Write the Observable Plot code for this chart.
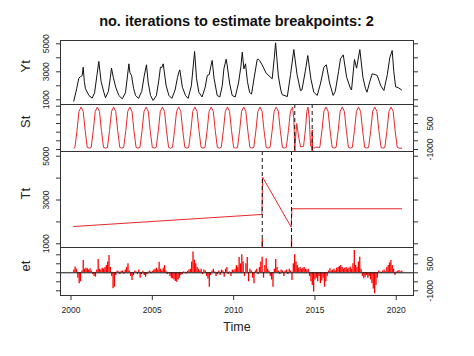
<!DOCTYPE html>
<html><head><meta charset="utf-8">
<script src="https://cdn.jsdelivr.net/npm/d3@7"></script>
<script src="https://cdn.jsdelivr.net/npm/@observablehq/plot@0.6"></script>
<style>
body{margin:0;background:#fff;}
#wrap{position:relative;width:474px;height:356px;font-family:"Liberation Sans",Arial,sans-serif;}
#title{position:absolute;left:60px;width:353px;top:13px;line-height:16px;text-align:center;font-weight:bold;font-size:14.5px;color:#111;}
</style></head><body>
<div id="wrap"><div id="title">no. iterations to estimate breakpoints: 2</div></div>
<script>
// ---------- data ----------
const titleText = "no. iterations to estimate breakpoints: 2";
const yearTicks = [2000, 2005, 2010, 2015, 2020];
const levelTicks = [1000, 2000, 3000, 4000, 5000];
const levelLabels = [1000, 3000, 5000];
const stTicks = [-1000, -500, 0, 500, 1000, 1500];
const stLabels = [-1000, 500];
const etTicks = [-1000, -500, 0, 500, 1000];
const etLabels = [-1000, 500];
const panelNames = ["Yt", "St", "Tt", "et"];

// observed series Yt: [decimal year, value]
const ytSeries = [
[2000.17,900],[2000.35,1800],[2000.48,2540],[2000.58,2650],[2000.69,2740],[2000.75,3330],[2000.82,2300],[2000.89,1790],
[2001.10,1310],[2001.30,1115],[2001.45,1500],[2001.60,2800],[2001.71,3740],[2001.85,2300],[2002.02,1540],[2002.12,1150],
[2002.30,1600],[2002.42,2610],[2002.49,3260],[2002.60,2610],[2002.75,1900],[2002.94,1310],[2003.15,1070],[2003.35,1500],
[2003.56,3570],[2003.62,2950],[2003.72,2740],[2003.85,1800],[2003.97,1310],[2004.15,1100],[2004.35,1600],[2004.50,2700],
[2004.64,3500],[2004.75,2200],[2004.89,1310],[2005.05,950],[2005.25,1300],[2005.40,2400],[2005.50,3330],[2005.58,3300],
[2005.67,3570],[2005.85,2000],[2006.02,1310],[2006.20,1100],[2006.40,1700],[2006.55,2600],[2006.63,2970],[2006.69,3140],
[2006.85,1900],[2007.04,1310],[2007.20,1100],[2007.40,2000],[2007.60,4450],[2007.72,2500],[2007.86,1540],[2008.06,1200],
[2008.25,1900],[2008.38,2740],[2008.50,2800],[2008.60,3400],[2008.68,3810],[2008.80,2500],[2008.99,1310],[2009.15,1200],
[2009.30,2000],[2009.40,3210],[2009.54,3900],[2009.60,3500],[2009.75,2200],[2009.91,1310],[2010.10,1200],[2010.30,2200],
[2010.45,3400],[2010.53,4400],[2010.63,3210],[2010.73,3570],[2010.85,2300],[2010.98,1540],[2011.10,1400],[2011.25,2500],
[2011.45,3880],[2011.52,3900],[2011.60,3800],[2011.75,3500],[2012.00,2900],[2012.37,2500],[2012.50,4000],[2012.58,5070],
[2012.75,2700],[2012.90,1700],[2012.99,1360],[2013.30,1230],[2013.50,2800],[2013.70,4590],[2013.90,2800],[2014.11,1660],
[2014.20,1700],[2014.40,3000],[2014.56,4160],[2014.75,2500],[2014.93,1540],[2015.14,1310],[2015.35,2200],[2015.55,3330],
[2015.70,3500],[2015.90,2200],[2016.12,1310],[2016.25,1600],[2016.45,3000],[2016.57,3930],[2016.74,4210],[2016.95,2600],
[2017.19,1790],[2017.25,1700],[2017.43,3880],[2017.56,3260],[2017.76,4590],[2017.95,2600],[2018.11,1790],[2018.20,1540],
[2018.35,2200],[2018.52,2860],[2018.70,2800],[2018.83,2740],[2019.05,2000],[2019.24,1660],[2019.45,2800],[2019.60,4000],
[2019.75,4520],[2019.85,3000],[2019.96,1930],[2020.15,1850],[2020.33,1700]
];

// seasonal component St
const stSeries = [
[2000.17,-925],[2000.24,-880],[2000.37,100],[2000.49,1200],[2000.62,1450],[2000.75,1200],[2000.87,100],[2001.00,-880],[2001.12,-920],
[2001.24,-880],[2001.37,100],[2001.49,1200],[2001.62,1450],[2001.75,1200],[2001.87,100],[2002.00,-880],[2002.12,-920],
[2002.24,-880],[2002.37,100],[2002.49,1200],[2002.62,1450],[2002.75,1200],[2002.87,100],[2003.00,-880],[2003.12,-920],
[2003.24,-880],[2003.37,100],[2003.49,1200],[2003.62,1450],[2003.75,1200],[2003.87,100],[2004.00,-880],[2004.12,-920],
[2004.24,-880],[2004.37,100],[2004.49,1200],[2004.62,1450],[2004.75,1200],[2004.87,100],[2005.00,-880],[2005.12,-920],
[2005.24,-880],[2005.37,100],[2005.49,1200],[2005.62,1450],[2005.75,1200],[2005.87,100],[2006.00,-880],[2006.12,-920],
[2006.24,-880],[2006.37,100],[2006.49,1200],[2006.62,1450],[2006.75,1200],[2006.87,100],[2007.00,-880],[2007.12,-920],
[2007.24,-880],[2007.37,100],[2007.49,1200],[2007.62,1450],[2007.75,1200],[2007.87,100],[2008.00,-880],[2008.12,-920],
[2008.24,-880],[2008.37,100],[2008.49,1200],[2008.62,1450],[2008.75,1200],[2008.87,100],[2009.00,-880],[2009.12,-920],
[2009.24,-880],[2009.37,100],[2009.49,1200],[2009.62,1450],[2009.75,1200],[2009.87,100],[2010.00,-880],[2010.12,-920],
[2010.24,-880],[2010.37,100],[2010.49,1200],[2010.62,1450],[2010.75,1200],[2010.87,100],[2011.00,-880],[2011.12,-920],
[2011.24,-880],[2011.37,100],[2011.49,1200],[2011.62,1450],[2011.75,1200],[2011.87,100],[2012.00,-880],[2012.12,-920],
[2012.24,-880],[2012.37,100],[2012.49,1200],[2012.62,1450],[2012.75,1200],[2012.87,100],[2013.00,-880],[2013.12,-920],
[2013.24,-880],[2013.37,100],[2013.49,1200],[2013.62,1450],[2013.70,800],[2013.76,-900],
[2013.88,500],[2014.00,-300],[2014.12,-850],[2014.30,-820],[2014.43,300],[2014.50,1200],[2014.57,1450],[2014.65,800],[2014.73,-800],[2014.83,-880],
[2014.95,-920],[2015.06,-860],[2015.30,-880],[2015.43,100],[2015.55,1200],[2015.68,1450],[2015.81,1200],[2015.93,100],[2016.06,-880],[2016.18,-920],
[2016.30,-880],[2016.43,100],[2016.55,1200],[2016.68,1450],[2016.81,1200],[2016.93,100],[2017.06,-880],[2017.18,-920],
[2017.30,-880],[2017.43,100],[2017.55,1200],[2017.68,1450],[2017.81,1200],[2017.93,100],[2018.06,-880],[2018.18,-920],
[2018.30,-880],[2018.43,100],[2018.55,1200],[2018.68,1450],[2018.81,1200],[2018.93,100],[2019.06,-880],[2019.18,-920],
[2019.30,-880],[2019.43,100],[2019.55,1200],[2019.68,1450],[2019.81,1200],[2019.93,100],[2020.06,-880],[2020.18,-920],[2020.33,-925]
];

// trend component Tt
const ttSeries = [[2000.17,1790],[2011.74,2340],[2011.78,4040],[2013.54,1760],[2013.58,2600],[2020.33,2600]];

// breakpoints
const trendBreaks = [2011.76, 2013.56];
const seasonBreaks = [2013.76, 2014.83];
const trendCIHigh = [1200, 1200];
const seasonCIHigh = [-950, 100];

// remainder et (monthly, starting 2000.17)
const etStart = 2000.17;
const etPerYear = 12;
const etValues = [
150,315,200,-300,-610,-500,100,685,200,250,220,150,
220,100,-100,-200,-240,150,740,200,150,250,200,300,
400,600,960,300,-200,-890,-800,-150,100,50,-100,80,
100,-80,150,300,500,100,-200,-425,-150,100,50,-100,
150,-300,-100,80,-150,-250,-100,50,100,-50,80,150,
200,250,150,590,200,100,250,400,100,-100,-50,-200,
-300,-350,-400,-480,-520,-400,-300,-150,-100,50,30,-60,
80,150,200,600,1150,700,500,300,200,100,200,-100,
150,100,-200,-350,-800,-150,100,200,50,-200,-100,100,
-150,150,100,-250,200,300,-100,50,-200,150,100,200,
400,300,850,500,1000,600,-200,500,850,-500,200,100,
-300,-610,100,200,-100,300,600,870,-300,400,780,200,
100,-200,-400,-800,200,740,300,100,-100,150,100,-200,
100,150,-100,200,100,-425,500,1000,600,400,250,300,
200,250,300,200,150,200,-200,-500,-700,-1070,-400,-300,
-500,-200,-600,-450,-300,-800,-500,-200,100,220,100,150,
200,100,250,300,350,400,300,200,250,300,200,250,
315,200,500,1240,400,300,600,870,200,-200,-330,-250,
-150,-300,-200,-400,-600,-900,-1165,-700,-300,100,50,-50,
100,150,50,300,400,550,685,400,200,-150,50,80,
130,50,100
];

// ---------- layout ----------
const W = 474, H = 356;
const X_DOMAIN = [1999.354, 2021.06];
const FONT = "'Liberation Sans', Arial, Helvetica, sans-serif";
const etData = etValues.map((v, i) => ({t: etStart + i / etPerYear, v}));

function panel(o) {
  const other = o.side === "left" ? "right" : "left";
  const marks = [
    ...o.marks,
    Plot.frame({stroke: "#333", strokeWidth: 1}),
    Plot.axisY({anchor: o.side, ticks: o.ticks, tickSize: 4, tickRotate: -90,
      tickPadding: o.side === "left" ? 7.5 : 9.5,
      lineAnchor: o.side === "left" ? "bottom" : "top", textAnchor: "middle",
      tickFormat: d => o.labels.includes(d) ? String(d) : "",
      fontSize: 8.5, label: null, stroke: "#333", fill: "#222"}),
    Plot.axisY({anchor: other, ticks: o.ticks, tickSize: 4, tickFormat: () => "", label: null, stroke: "#333"}),
    Plot.text([o.name], {text: d => d, frameAnchor: "left", dx: -35, rotate: -90, fontSize: 13, fill: "#222"})
  ];
  if (o.xAxis) {
    marks.push(Plot.axisX({ticks: yearTicks, tickSize: 5, tickPadding: 6, fontSize: 8.5,
      tickFormat: d => String(d), label: null, stroke: "#333", fill: "#222"}));
    marks.push(Plot.text(["Time"], {text: d => d, frameAnchor: "bottom", dy: 35, fontSize: 12.5, fill: "#222"}));
  }
  return Plot.plot({
    width: W, height: H,
    marginLeft: 60, marginRight: W - 413, marginTop: o.top, marginBottom: H - o.bottom,
    x: {domain: X_DOMAIN, axis: null},
    y: {domain: o.yDomain, axis: null},
    style: `position:absolute;left:0;top:0;background:transparent;overflow:visible;font-family:${FONT};`,
    marks
  });
}

const wrap = document.getElementById("wrap");
document.getElementById("title").textContent = titleText;

const ytDomain = [664, 5236], stDomain = [-1115, 1597], ttDomain = [831, 5215], etDomain = [-1261, 1405];

wrap.appendChild(panel({
  name: panelNames[0], top: 40, bottom: 104, yDomain: ytDomain, ticks: levelTicks, labels: levelLabels, side: "left",
  marks: [Plot.line(ytSeries, {x: d => d[0], y: d => d[1], stroke: "#111", strokeWidth: 1})]
}));
wrap.appendChild(panel({
  name: panelNames[1], top: 104, bottom: 151, yDomain: stDomain, ticks: stTicks, labels: stLabels, side: "right",
  marks: [
    Plot.line(stSeries, {x: d => d[0], y: d => d[1], stroke: "#e8282b", strokeWidth: 1}),
    Plot.ruleX(seasonBreaks, {x: d => d, y1: stDomain[0], y2: (d, i) => seasonCIHigh[i], stroke: "red", strokeWidth: 1.3}),
    Plot.ruleX(seasonBreaks, {x: d => d, stroke: "#111", strokeDasharray: "4,3", strokeWidth: 1})
  ]
}));
wrap.appendChild(panel({
  name: panelNames[2], top: 151, bottom: 247, yDomain: ttDomain, ticks: levelTicks, labels: levelLabels, side: "left",
  marks: [
    Plot.line(ttSeries, {x: d => d[0], y: d => d[1], stroke: "#e8282b", strokeWidth: 1}),
    Plot.ruleX(trendBreaks, {x: d => d, y1: ttDomain[0], y2: (d, i) => trendCIHigh[i], stroke: "red", strokeWidth: 1.3}),
    Plot.ruleX(trendBreaks, {x: d => d, stroke: "#111", strokeDasharray: "4,3", strokeWidth: 1})
  ]
}));
wrap.appendChild(panel({
  name: panelNames[3], top: 247, bottom: 295, yDomain: etDomain, ticks: etTicks, labels: etLabels, side: "right", xAxis: true,
  marks: [
    Plot.ruleX(etData, {x: "t", y1: 0, y2: "v", stroke: "red", strokeWidth: 1.3}),
    Plot.ruleY([0], {stroke: "#111", strokeWidth: 1})
  ]
}));
</script>
</body></html>
